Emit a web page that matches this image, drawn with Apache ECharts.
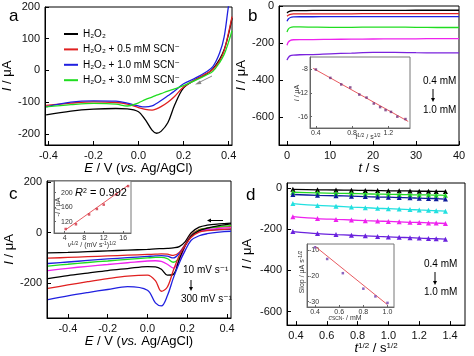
<!DOCTYPE html>
<html lang="en">
<head>
<meta charset="UTF-8">
<title>SCN- panels</title>
<style>
  html, body { margin: 0; padding: 0; background: #fff; }
  #main { width: 474px; height: 356px; }
</style>
</head>
<body>
<div id="main"></div>
<script src="https://cdn.jsdelivr.net/npm/echarts@6/dist/echarts.min.js"></script>
<script>
// panel a: CVs of H2O2 with SCN-
var aX = [-0.41, -0.3, -0.2, -0.1, -0.05, 0.0, 0.03, 0.06, 0.08, 0.1, 0.13, 0.16, 0.2, 0.25, 0.3, 0.33, 0.36, 0.38, 0.4, 0.415]
var aBlack = [-140, -128, -122, -120, -121, -130, -155, -188, -198, -192, -165, -110, -55, -30, -12, 5, 35, 65, 115, 165]
var aRed = [-110, -103, -99, -101, -106, -117, -123, -125, -121, -114, -100, -82, -52, -30, -10, 3, 30, 62, 120, 170]
var aBlue = [-115, -100, -96, -97, -103, -112, -115, -112, -104, -95, -80, -65, -42, -25, -5, 12, 55, 105, 205, 260]
var aGreen = [-115, -108, -104, -106, -112, -102, -92, -84, -78, -73, -65, -58, -48, -32, -15, -3, 25, 50, 90, 125]
var aNames = ['H₂O₂', 'H₂O₂ + 0.5 mM SCN⁻', 'H₂O₂ + 1.0 mM SCN⁻', 'H₂O₂ + 3.0 mM SCN⁻']

// panel b: chronoamperometry 0.4 -> 1.0 mM
var bX = [0, 0.3, 0.8, 1.5, 3, 6, 10, 15, 20, 25, 30, 35, 40]
var bCurves = [
  [-38, -32, -27, -25, -25, -24, -24, -24, -24, -24, -23, -23, -23],
  [-55, -50, -45, -43, -42, -42, -42, -42, -41, -41, -41, -41, -41],
  [-82, -70, -62, -59, -58, -58, -57, -57, -57, -57, -57, -57, -57],
  [-140, -125, -116, -113, -113, -114, -115, -115, -114, -114, -115, -116, -116],
  [-212, -195, -185, -182, -181, -181, -180, -179, -178, -177, -177, -176, -176],
  [-292, -278, -268, -265, -263, -262, -258, -254, -250, -250, -252, -253, -253]
]
var bColors = ['#000000', '#e02020', '#2020e0', '#20dd20', '#ee22ee', '#7a22dd']

// inset b
var ibX = [0.40, 0.56, 0.68, 0.78, 0.88, 0.96, 1.04, 1.11, 1.17, 1.23, 1.30, 1.39]
var ibY = [-8.1, -9.5, -10.6, -11.1, -12.3, -12.8, -13.8, -14.4, -14.9, -15.2, -16.0, -16.4]
var ibFitX = [0.37, 1.42]
var ibFitY = [-7.9, -16.8]

// panel c: CVs at 10 ... 300 mV/s
var cX = [-0.5, -0.4, -0.3, -0.2, -0.1, 0.0, 0.04, 0.07, 0.1, 0.13, 0.16, 0.19, 0.22, 0.26, 0.3, 0.36, 0.42]
var cCurves = [
  [-80, -78, -75, -72, -69, -66, -64, -63, -62, -60, -55, -35, 0, 22, 30, 35, 38],
  [-101, -98, -95, -92, -89, -86, -85, -84, -85, -90, -78, -45, -8, 12, 18, 22, 24],
  [-122, -116, -110, -104, -99, -94, -92, -91, -93, -100, -82, -48, -12, 6, 10, 12, 12],
  [-132, -125, -118, -112, -106, -100, -98, -98, -103, -117, -100, -50, -12, 10, 18, 24, 28],
  [-150, -141, -133, -126, -119, -112, -111, -114, -125, -140, -110, -52, -14, 6, 12, 17, 20],
  [-182, -170, -160, -150, -142, -134, -135, -145, -168, -165, -105, -50, -14, 8, 18, 28, 35],
  [-221, -207, -194, -182, -172, -168, -190, -232, -215, -150, -90, -50, -18, 2, 8, 12, 15],
  [-265, -250, -237, -225, -214, -228, -278, -290, -250, -180, -120, -70, -30, -12, -4, 2, 5]
]
var cColors = ['#000000', '#e02020', '#2020e0', '#20dd20', '#ee22ee', '#000000', '#e02020', '#2020e0']

// inset c
var icX = [4.2, 6.3, 9.0, 10.6, 12.0, 14.6, 17.0]
var icY = [100, 113, 140, 155, 167, 195, 218]
var icFitX = [4.2, 17.0]
var icFitY = [98, 220]

// panel d: I vs t^1/2
var dX = [0.38, 0.54, 0.66, 0.76, 0.85, 0.93, 1.00, 1.07, 1.14, 1.20, 1.26, 1.31, 1.37]
var dCurves = [
  [-6, -8, -9, -10, -11, -12, -13, -13, -14, -15, -15, -16, -16],
  [-20, -23, -25, -26, -28, -29, -30, -31, -32, -33, -33, -34, -35],
  [-31, -35, -37, -39, -41, -43, -44, -46, -47, -49, -50, -51, -53],
  [-75, -84, -88, -92, -95, -98, -100, -102, -104, -106, -108, -110, -112],
  [-139, -148, -152, -155, -158, -160, -162, -164, -166, -167, -169, -170, -172],
  [-211, -221, -226, -229, -232, -235, -237, -239, -241, -243, -245, -246, -248]
]
var dColors = ['#000000', '#22d822', '#0c1a9a', '#22e0e0', '#ee22ee', '#6a22dd']

// inset d
var idX = [0.4, 0.5, 0.63, 0.8, 0.9, 1.0]
var idY = [-9, -13.5, -19, -25, -28, -30.5]
var idFitX = [0.4, 1.0]
var idFitY = [-8.6, -31.2]

var ff = '"Liberation Sans", Arial, "DejaVu Sans", sans-serif'

function pts(xs, ys) {
  return xs.map(function (x, i) { return [x, ys[i]] })
}
function f1(v) { return v.toFixed(1) }
function f0(v) { return String(Math.round(v)) }

var rich = {
  i: { fontStyle: 'italic', fontSize: 13, fontFamily: ff, color: '#000' },
  sup: { fontSize: 8, fontFamily: ff, verticalAlign: 'top', color: '#000' }
}

function mainAxis(grid, min, max, ticks, fmt, name, gap) {
  return {
    type: 'value', gridIndex: grid, min: min, max: max,
    axisLine: { show: true, onZero: false, lineStyle: { color: '#000', width: 1 } },
    axisTick: { show: true, inside: true, length: 4, customValues: ticks, lineStyle: { color: '#000' } },
    axisLabel: { customValues: ticks, formatter: fmt, fontSize: 11, color: '#111', fontFamily: ff, margin: 5 },
    splitLine: { show: false },
    name: name, nameLocation: 'middle', nameGap: gap,
    nameTextStyle: { fontSize: 13, color: '#000', fontFamily: ff, rich: rich }
  }
}
function insetAxis(grid, min, max, ticks, fmt, inside, margin) {
  return {
    type: 'value', gridIndex: grid, min: min, max: max,
    axisLine: { show: true, onZero: false, lineStyle: { color: '#666', width: 1 } },
    axisTick: { show: true, inside: true, length: 2, customValues: ticks, lineStyle: { color: '#666' } },
    axisLabel: { customValues: ticks, formatter: fmt, fontSize: 7, color: '#333', fontFamily: ff, margin: margin || 2, inside: !!inside },
    splitLine: { show: false }
  }
}

var frame = { show: true, borderColor: '#000', borderWidth: 1 }
var iframe = { show: true, borderColor: '#777', borderWidth: 1, backgroundColor: '#fff' }

var chart = echarts.init(document.getElementById('main'))

var series = []
// panel a
var aData = [aBlack, aRed, aBlue, aGreen]
var aColors = ['#000000', '#e02020', '#2020e0', '#20dd20']
aData.forEach(function (ys, k) {
  series.push({
    type: 'line', name: aNames[k], xAxisIndex: 0, yAxisIndex: 0, data: pts(aX, ys),
    smooth: 0.35, symbol: 'none', lineStyle: { color: aColors[k], width: 1.3 }, itemStyle: { color: aColors[k] }
  })
})
// panel b
bCurves.forEach(function (ys, k) {
  series.push({
    type: 'line', xAxisIndex: 1, yAxisIndex: 1, data: pts(bX, ys),
    smooth: 0.3, symbol: 'none', lineStyle: { color: bColors[k], width: 1.3 }
  })
})
series.push({
  type: 'line', xAxisIndex: 4, yAxisIndex: 4, data: pts(ibFitX, ibFitY),
  symbol: 'none', lineStyle: { color: '#e85a60', width: 1 }, z: 5
})
series.push({
  type: 'scatter', xAxisIndex: 4, yAxisIndex: 4, data: pts(ibX, ibY),
  symbol: 'rect', symbolSize: 2.5, itemStyle: { color: '#70307a' }, z: 6
})
// panel c
cCurves.forEach(function (ys, k) {
  series.push({
    type: 'line', xAxisIndex: 2, yAxisIndex: 2, data: pts(cX, ys),
    smooth: 0.35, symbol: 'none', lineStyle: { color: cColors[k], width: 1.3 }
  })
})
series.push({
  type: 'line', xAxisIndex: 5, yAxisIndex: 5, data: pts(icFitX, icFitY),
  symbol: 'none', lineStyle: { color: '#e85a60', width: 1 }, z: 5
})
series.push({
  type: 'scatter', xAxisIndex: 5, yAxisIndex: 5, data: pts(icX, icY),
  symbol: 'rect', symbolSize: 2.5, itemStyle: { color: '#d03040' }, z: 6
})
// panel d
dCurves.forEach(function (ys, k) {
  series.push({
    type: 'line', xAxisIndex: 3, yAxisIndex: 3, data: pts(dX, ys),
    smooth: 0.3, symbol: 'triangle', symbolSize: 5, showSymbol: true,
    lineStyle: { color: dColors[k], width: 1.3 }, itemStyle: { color: dColors[k] }
  })
})
series.push({
  type: 'line', xAxisIndex: 6, yAxisIndex: 6, data: pts(idFitX, idFitY),
  symbol: 'none', lineStyle: { color: '#e85a60', width: 1 }, z: 5
})
series.push({
  type: 'scatter', xAxisIndex: 6, yAxisIndex: 6, data: pts(idX, idY),
  symbol: 'rect', symbolSize: 2.5, itemStyle: { color: '#7040b0' }, z: 6
})

function txt(x, y, s, size, opt) {
  opt = opt || {}
  return {
    type: 'text', x: x, y: y, rotation: opt.rot || 0, z: 100,
    style: {
      text: s, fill: opt.color || '#000', fontSize: size, fontFamily: ff,
      fontStyle: opt.italic ? 'italic' : 'normal',
      textAlign: opt.align || 'left', textVerticalAlign: 'middle',
      align: opt.align || 'left', verticalAlign: 'middle', rich: opt.rich
    }
  }
}
function arrowDown(x, y1, y2, color) {
  return [
    { type: 'line', z: 100, shape: { x1: x, y1: y1, x2: x, y2: y2 - 3 }, style: { stroke: color, lineWidth: 1 } },
    { type: 'polygon', z: 100, shape: { points: [[x - 2, y2 - 4], [x + 2, y2 - 4], [x, y2]] }, style: { fill: color } }
  ]
}
var smallRich = {
  i: { fontStyle: 'italic', fontSize: 7, fontFamily: ff, fill: '#333', color: '#333' },
  sup: { fontSize: 5, fontFamily: ff, verticalAlign: 'top', fill: '#333', color: '#333' },
  sub: { fontSize: 5, fontFamily: ff, verticalAlign: 'bottom', fill: '#333', color: '#333' },
  n: { fontSize: 7, fontFamily: ff, fill: '#333', color: '#333' }
}

var graphics = [
  txt(9, 16, 'a', 17),
  txt(248, 16, 'b', 17),
  txt(9, 194, 'c', 17),
  txt(246, 195, 'd', 17),
  // panel a sweep arrow
  { type: 'line', z: 100, shape: { x1: 212, y1: 76, x2: 198, y2: 83 }, style: { stroke: '#888', lineWidth: 1 } },
  { type: 'polygon', z: 100, shape: { points: [[195, 84.5], [200, 80.5], [201.5, 84]] }, style: { fill: '#888' } },
  // panel b labels
  txt(423, 81, '0.4 mM', 10),
  txt(423, 110, '1.0 mM', 10),
  // panel c labels
  txt(183, 270, '10 mV s⁻¹', 10),
  txt(181, 299, '300 mV s⁻¹', 10),
  { type: 'line', z: 100, shape: { x1: 223, y1: 220.5, x2: 210, y2: 220.5 }, style: { stroke: '#000', lineWidth: 1 } },
  { type: 'polygon', z: 100, shape: { points: [[207, 220.5], [211, 218.5], [211, 222.5]] }, style: { fill: '#000' } },
  txt(75, 193, '{it|R}{s|2} = 0.992', 11, { rich: {
    it: { fontStyle: 'italic', fontSize: 11, fontFamily: ff },
    s: { fontSize: 7, fontFamily: ff, verticalAlign: 'top' }
  } }),
  // panel d labels
  txt(424, 264, '0.4 mM', 10),
  txt(424, 292, '1.0 mM', 10),
  // inset titles
  txt(297, 93, '{i|I} {n|/ μA}', 7, { rot: Math.PI / 2, align: 'center', rich: smallRich }),
  txt(368, 137, '{i|t}{sup|1/2}{n| / s}{sup|1/2}', 7, { align: 'center', rich: smallRich }),
  txt(58, 207, '{n|-}{i|I}{n| / μA}', 7, { rot: Math.PI / 2, align: 'center', rich: smallRich }),
  txt(92, 245, '{i|v}{sup|1/2}{n| / (mV s}{sup|-1}{n|)}{sup|1/2}', 7, { align: 'center', rich: smallRich }),
  txt(302, 272, '{n|Slop / μA s}{sup|-1/2}', 7, { rot: Math.PI / 2, align: 'center', rich: smallRich }),
  txt(345, 318, '{i|c}{sub|SCN-}{n| / mM}', 7, { align: 'center', rich: smallRich })
]
graphics = graphics.concat(arrowDown(433, 89, 102, '#000'))
graphics = graphics.concat(arrowDown(191, 280, 291, '#000'))
graphics = graphics.concat(arrowDown(435, 272, 285, '#000'))

var option = {
  animation: false,
  backgroundColor: '#fff',
  textStyle: { fontFamily: ff },
  legend: {
    data: aNames, orient: 'vertical', left: 58, top: 24,
    itemWidth: 14, itemHeight: 11, itemGap: 5.4,
    itemStyle: { opacity: 0 },
    textStyle: { fontSize: 10, color: '#000', fontFamily: ff }
  },
  grid: [
    Object.assign({ left: 45, top: 7, width: 187, height: 138 }, frame),
    Object.assign({ left: 279, top: 6, width: 180, height: 139 }, frame),
    Object.assign({ left: 47, top: 181, width: 184, height: 137 }, frame),
    Object.assign({ left: 287, top: 183, width: 178, height: 144 }, frame),
    Object.assign({ left: 310, top: 57, width: 100, height: 71 }, iframe),
    Object.assign({ left: 54, top: 181, width: 77, height: 52 }, iframe),
    Object.assign({ left: 307, top: 244, width: 87, height: 63 }, iframe)
  ],
  xAxis: [
    mainAxis(0, -0.415, 0.415, [-0.4, -0.2, 0, 0.2, 0.4], f1, '{i|E} / V ({i|vs.} Ag/AgCl)', 14),
    mainAxis(1, -1.86, 40, [0, 10, 20, 30, 40], f0, '{i|t} / s', 15),
    mainAxis(2, -0.505, 0.42, [-0.4, -0.2, 0, 0.2, 0.4], f1, '{i|E} / V ({i|vs.} Ag/AgCl)', 16),
    mainAxis(3, 0.342, 1.497, [0.4, 0.6, 0.8, 1.0, 1.2, 1.4], f1, '{i|t}{sup|1/2} / s{sup|1/2}', 4),
    insetAxis(4, 0.335, 1.44, [0.4, 0.8, 1.2], f1),
    insetAxis(5, 1.8, 17.6, [4, 8, 12, 16], f0),
    insetAxis(6, 0.333, 1.054, [0.4, 0.6, 0.8, 1.0], f1)
  ],
  yAxis: [
    mainAxis(0, -235, 200, [-200, -100, 0, 100, 200], f0, '{i|I} / μA', 28),
    mainAxis(1, -750, 0, [-600, -400, -200, 0], f0, '{i|I} / μA', 26),
    mainAxis(2, -338, 205, [-200, 0, 200], f0, '{i|I} / μA', 30),
    mainAxis(3, -666, 25, [-600, -400, -200, 0], f0, '{i|I} / μA', 33),
    insetAxis(4, -17.9, -6, [-16, -12, -8], f0),
    insetAxis(5, 89, 232, [120, 160, 200], f0, true, 7),
    insetAxis(6, -32.1, -7.7, [-30, -20, -10], f0, true)
  ],
  series: series,
  graphic: graphics
}
chart.setOption(option)
</script>
</body>
</html>
